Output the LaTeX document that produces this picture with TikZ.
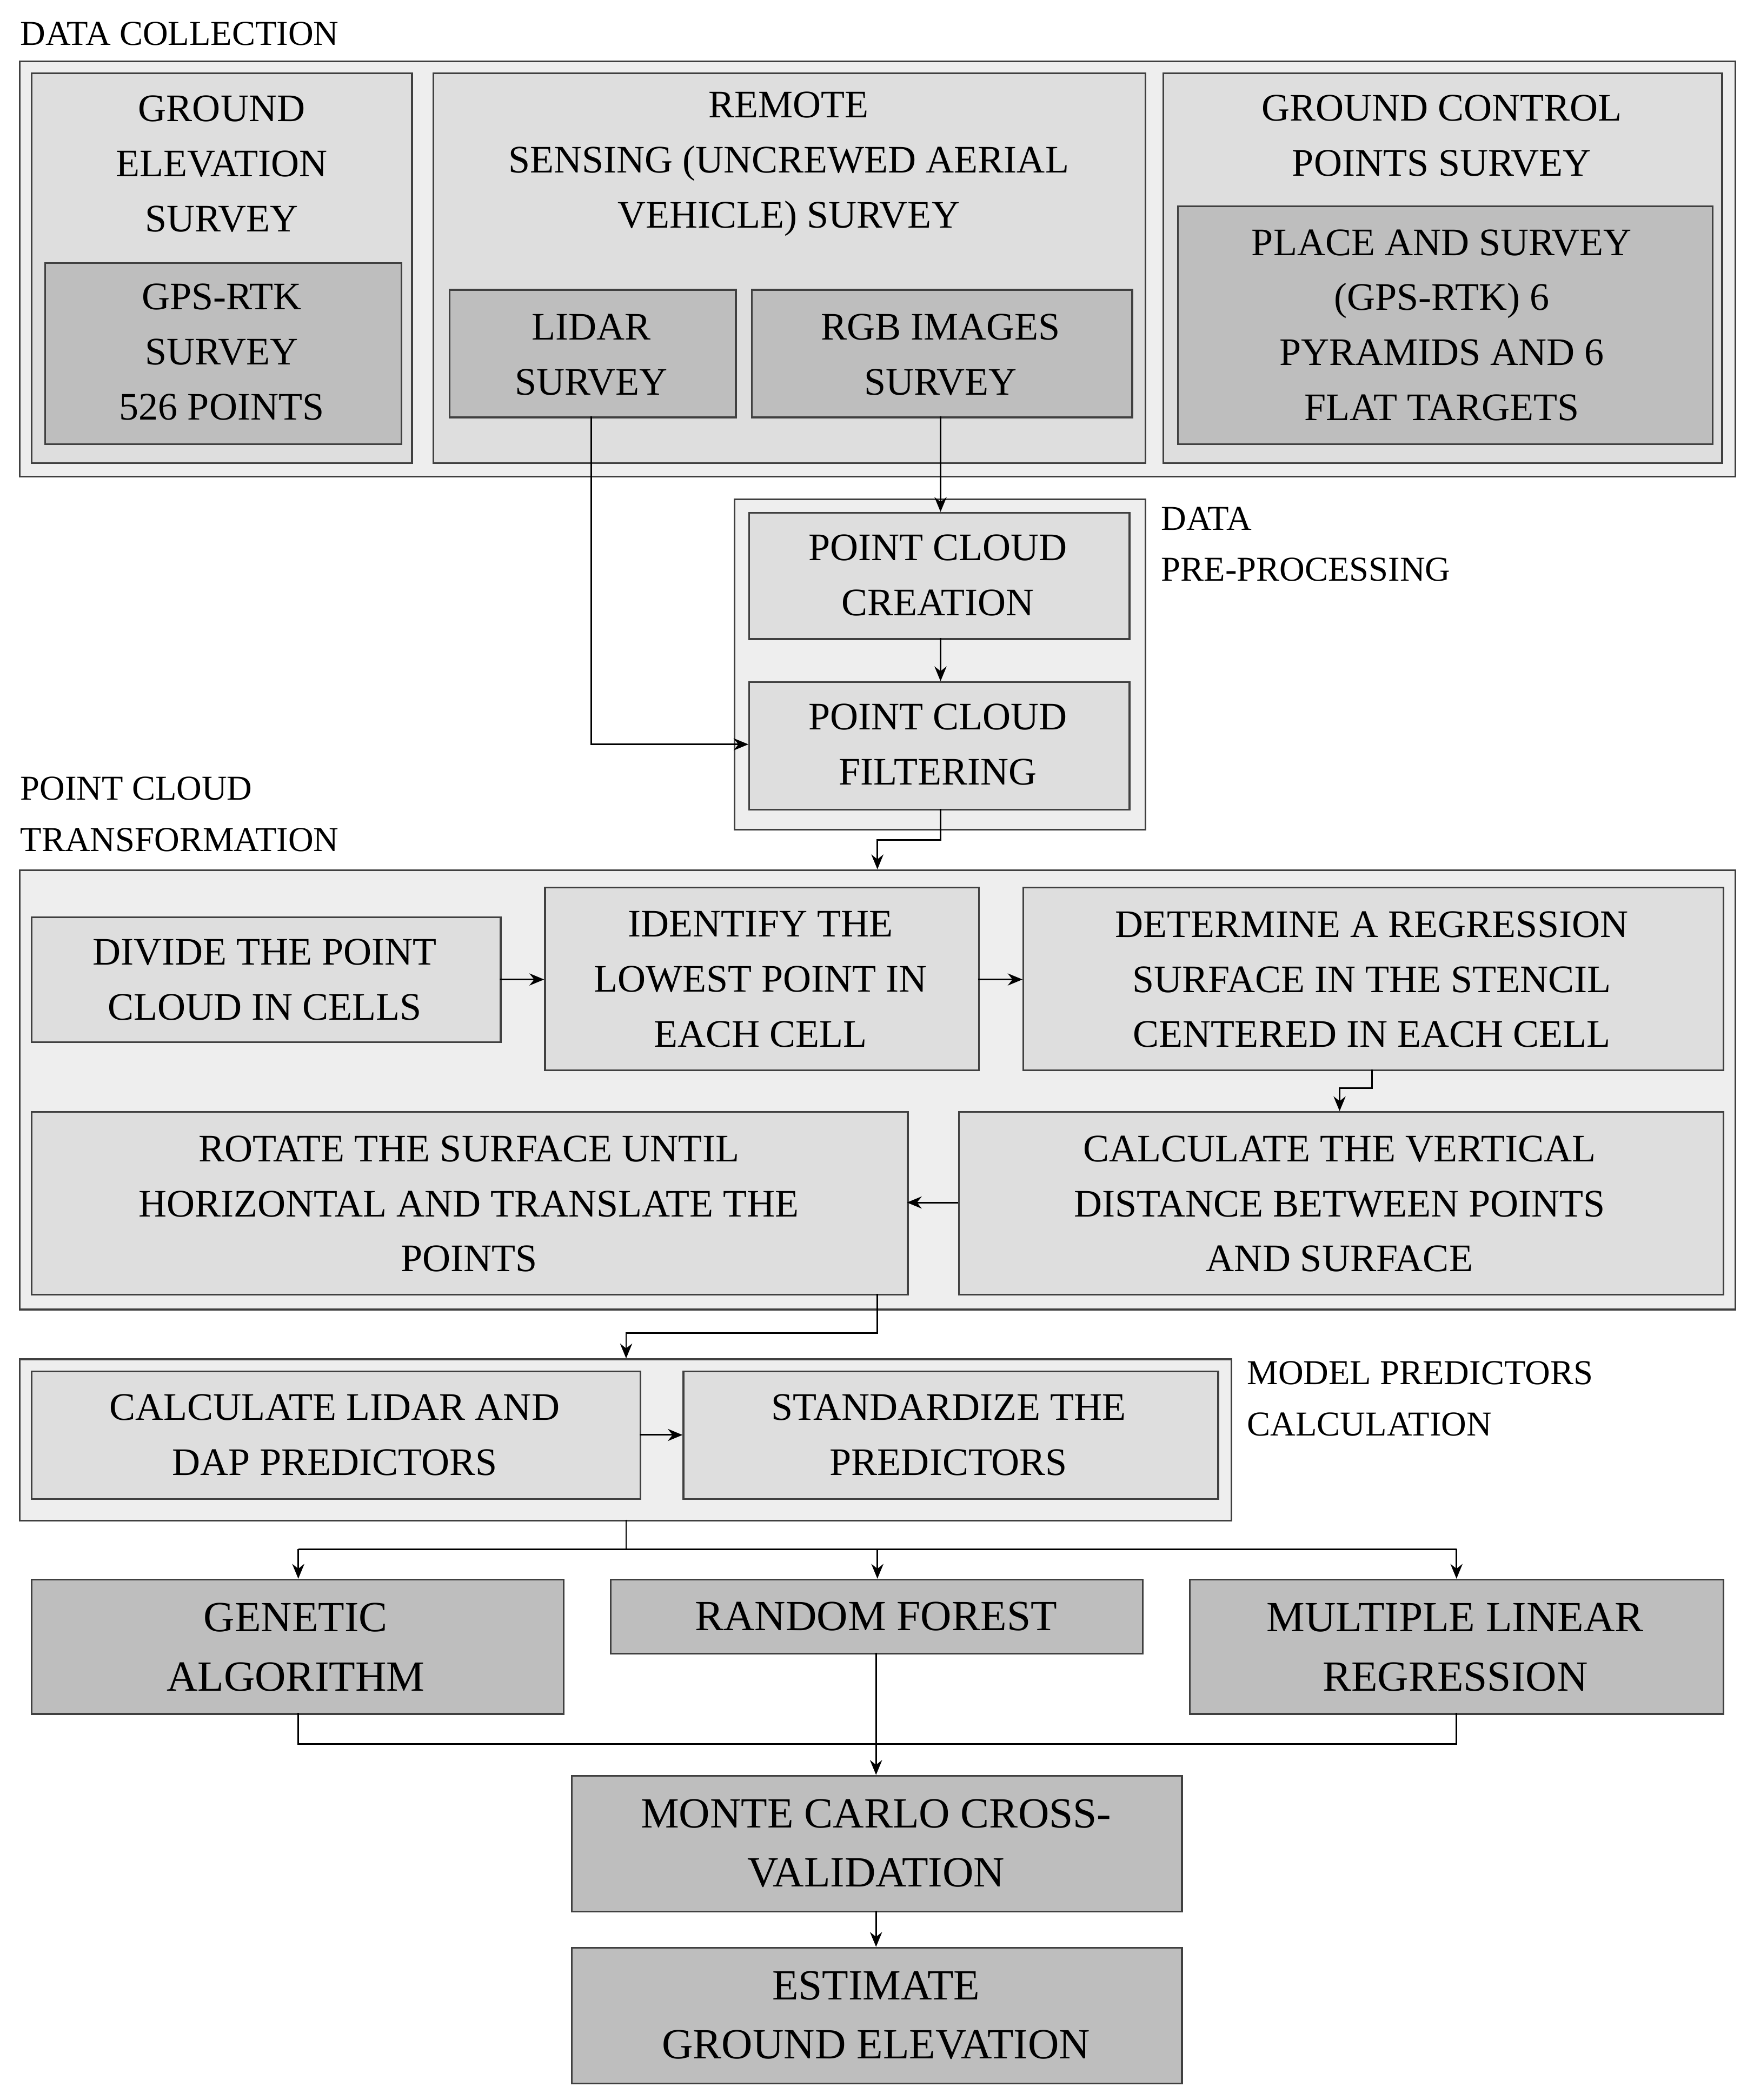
\documentclass[tikz,border=0pt]{standalone}
\usepackage{fontspec}
\setmainfont{Liberation Serif}
\usetikzlibrary{arrows.meta}
\definecolor{outer}{HTML}{EEEEEE}
\definecolor{mid}{HTML}{DEDEDE}
\definecolor{dark}{HTML}{BEBEBE}
\begin{document}
\begin{tikzpicture}[x=1pt,y=-1pt,
  bx/.style={draw=black!75,line width=1.3pt,inner sep=0pt,align=center,font=\fontsize{29}{41}\selectfont},
  big/.style={font=\fontsize{32}{44}\selectfont},
  lbl/.style={inner sep=0pt,align=left,anchor=west,font=\fontsize{26}{38}\selectfont},
  ttl/.style={inner sep=0pt,align=center,font=\fontsize{29}{41}\selectfont},
  arr/.style={line width=1.2pt,-{Stealth[length=11pt,width=9pt]}},
  ln/.style={line width=1.2pt}]
\useasboundingbox (0,0) rectangle (1300,1563);
\fill[white] (0,0) rectangle (1300,1563);
\newcommand{\bxat}[6]{\node[bx,#6,minimum width={#4-#2},minimum height={#5-#3},anchor=north west] (#1) at (#2,#3) {};}
% DATA COLLECTION
\node[lbl] (ldc) at (15,25) {DATA COLLECTION};
\bxat{dc}{14}{45}{1291}{354}{fill=outer}
\bxat{b1}{23}{54}{306}{344}{fill=mid}
\node[ttl] (t1) at (165,122) {GROUND\\ELEVATION\\SURVEY};
\bxat{gps}{33}{195}{298}{330}{fill=dark}
\node[ttl] (t1b) at (165,262) {GPS-RTK\\SURVEY\\526 POINTS};
\bxat{b2}{322}{54}{852}{344}{fill=mid}
\node[ttl] (t2) at (587,122) {REMOTE\\SENSING (UNCREWED AERIAL\\VEHICLE) SURVEY};
\bxat{lidar}{334}{215}{547}{310}{fill=dark}
\node[ttl] (tl) at (440,264) {LIDAR\\SURVEY};
\bxat{rgb}{559}{215}{842}{310}{fill=dark}
\node[ttl] (tr) at (700,264) {RGB IMAGES\\SURVEY};
\bxat{b3}{865}{54}{1281}{344}{fill=mid}
\node[ttl] (t3) at (1073,101) {GROUND CONTROL\\POINTS SURVEY};
\bxat{gcp}{876}{153}{1274}{330}{fill=dark}
\node[ttl] (t3b) at (1073,242) {PLACE AND SURVEY\\(GPS-RTK) 6\\PYRAMIDS AND 6\\FLAT TARGETS};
% PRE-PROCESSING
\bxat{pp}{546}{371}{852}{617}{fill=outer}
\node[lbl] (lpp) at (864,405) {DATA\\PRE-PROCESSING};
\bxat{pcc}{557}{381}{840}{475}{fill=mid}
\node[ttl] (tpcc) at (698,428) {POINT CLOUD\\CREATION};
\bxat{pcf}{557}{507}{840}{602}{fill=mid}
\node[ttl] (tpcf) at (698,554) {POINT CLOUD\\FILTERING};
\draw[arr] (700,310) -- (700,381);
\draw[arr] (700,475) -- (700,507);
\draw[arr] (440,310) -- (440,554) -- (557,554);
% TRANSFORMATION
\node[lbl] (ltr) at (15,606) {POINT CLOUD\\TRANSFORMATION};
\draw[arr] (700,602) -- (700,625) -- (653,625) -- (653,647);
\bxat{tr}{14}{647}{1291}{974}{fill=outer}
\bxat{div}{23}{682}{372}{775}{fill=mid}
\node[ttl] at (197,729) {DIVIDE THE POINT\\CLOUD IN CELLS};
\bxat{idf}{405}{660}{728}{796}{fill=mid}
\node[ttl] at (566,729) {IDENTIFY THE\\LOWEST POINT IN\\EACH CELL};
\bxat{det}{761}{660}{1282}{796}{fill=mid}
\node[ttl] at (1021,729) {DETERMINE A REGRESSION\\SURFACE  IN THE STENCIL\\CENTERED IN EACH CELL};
\bxat{rot}{23}{827}{675}{963}{fill=mid}
\node[ttl] at (349,896) {ROTATE THE SURFACE  UNTIL\\HORIZONTAL AND TRANSLATE  THE\\POINTS};
\bxat{cal}{713}{827}{1282}{963}{fill=mid}
\node[ttl] at (997,896) {CALCULATE  THE VERTICAL\\DISTANCE BETWEEN POINTS\\AND SURFACE};
\draw[arr] (372,729) -- (405,729);
\draw[arr] (728,729) -- (761,729);
\draw[arr] (1021,796) -- (1021,810) -- (997,810) -- (997,827);
\draw[arr] (713,895) -- (675,895);
% MODEL PREDICTORS
\draw[arr] (653,963) -- (653,992) -- (466,992) -- (466,1011);
\bxat{mp}{14}{1011}{916}{1131}{fill=outer}
\node[lbl] (lmp) at (928,1041) {MODEL PREDICTORS\\CALCULATION};
\bxat{cl}{23}{1020}{476}{1115}{fill=mid}
\node[ttl] at (249,1068) {CALCULATE  LIDAR AND\\DAP PREDICTORS};
\bxat{st}{508}{1020}{906}{1115}{fill=mid}
\node[ttl] at (706,1068) {STANDARDIZE  THE\\PREDICTORS};
\draw[arr] (476,1068) -- (508,1068);
% MODELS
\draw[ln] (466,1131) -- (466,1153);
\draw[ln] (222,1153) -- (1084,1153);
\draw[arr] (222,1153) -- (222,1175);
\draw[arr] (653,1153) -- (653,1175);
\draw[arr] (1084,1153) -- (1084,1175);
\bxat{ga}{23}{1175}{419}{1275}{fill=dark}
\node[ttl,big] at (220,1226) {GENETIC\\ALGORITHM};
\bxat{rf}{454}{1175}{850}{1230}{fill=dark}
\node[ttl,big] at (652,1203) {RANDOM FOREST};
\bxat{mlr}{885}{1175}{1282}{1275}{fill=dark}
\node[ttl,big] at (1083,1226) {MULTIPLE  LINEAR\\REGRESSION};
\draw[ln] (222,1275) -- (222,1298) -- (1084,1298) -- (1084,1275);
\draw[arr] (652,1230) -- (652,1321);
\bxat{mc}{425}{1321}{879}{1422}{fill=dark}
\node[ttl,big] at (652,1372) {MONTE CARLO CROSS-\\VALIDATION};
\draw[arr] (652,1422) -- (652,1449);
\bxat{est}{425}{1449}{879}{1550}{fill=dark}
\node[ttl,big] at (652,1500) {ESTIMATE\\GROUND ELEVATION};
\end{tikzpicture}
\end{document}
